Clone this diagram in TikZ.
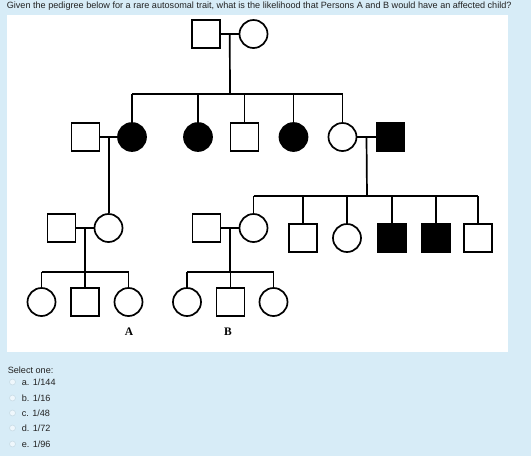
\documentclass[tikz,border=0pt]{standalone}
\usepackage{fontspec}
\setmainfont{Liberation Serif}
\setsansfont{Liberation Sans}
\usetikzlibrary{calc}
\definecolor{pagebg}{HTML}{D7ECF7}
\definecolor{ink}{HTML}{222222}
\definecolor{radio}{HTML}{C9DCE6}

\begin{document}
\begin{tikzpicture}[x=1pt,y=-1pt,
  line width=1.7pt,
  male/.style={draw, rectangle, minimum size=28pt, inner sep=0pt},
  female/.style={draw, circle, minimum size=28pt, inner sep=0pt},
  affected/.style={fill=black},
  qtext/.style={font=\sffamily\fontsize{9.1}{10}\selectfont, text=ink, inner sep=0pt},
  tag/.style={font=\bfseries\fontsize{11.5}{12}\selectfont, inner sep=0pt}]
\fill[pagebg] (0,0) rectangle (531,456);
\fill[white] (7,15) rectangle (508,352);
\node[qtext, anchor=west] (question) at (6,6.5) {Given the pedigree below for a rare autosomal trait, what is the likelihood that Persons A and B would have an affected child?};

% generation I
\node[male]   (gfather) at (206,34) {};
\node[female] (gmother) at (253.5,34) {};
\coordinate (m1) at ($(gfather)!0.5!(gmother)$);
\coordinate (s1) at (230,94);

% generation II
\node[male]             (husb1)  at (85.5,137) {};
\node[female, affected] (dau1)   at (132,137) {};
\node[female, affected] (dau2)   at (198,137) {};
\node[male]             (son1)   at (244.5,137) {};
\node[female, affected] (dau3)   at (293.5,137) {};
\node[female]           (dau4)   at (342.5,137) {};
\node[male, affected]   (husb2)  at (390.5,137) {};
\coordinate (m2) at ($(husb1)!0.5!(dau1)$);
\coordinate (m3) at ($(dau4)!0.5!(husb2)$);
\coordinate (s3) at (367,196);

% generation III
\node[male]           (husb3) at (61.5,228) {};
\node[female]         (mothA) at (108.5,228) {};
\node[male]           (husb4) at (206.5,228) {};
\node[female]         (mothB) at (253.5,228) {};
\node[male]           (sib1)  at (303,238) {};
\node[female]         (sib2)  at (347,238) {};
\node[male, affected] (sib3)  at (392,238) {};
\node[male, affected] (sib4)  at (436,238) {};
\node[male]           (sib5)  at (478,238) {};
\coordinate (m4) at ($(husb3)!0.5!(mothA)$);
\coordinate (m5) at ($(husb4)!0.5!(mothB)$);
\coordinate (s4) at (85,272);
\coordinate (s5) at (230,272);

% generation IV
\node[female] (kidA1) at (41.5,302) {};
\node[male]   (kidA2) at (85,302) {};
\node[female] (persA) at (128.5,302) {};
\node[female] (kidB1) at (187,302) {};
\node[male]   (persB) at (230.5,302) {};
\node[female] (kidB3) at (273.5,302) {};
\node[tag] (labA) at (129,332) {A};
\node[tag] (labB) at (228,332) {B};

% marriages and descents
\draw (gfather) -- (gmother);
\draw (m1) -- (s1);
\draw (dau1 |- s1) -- (dau4 |- s1);
\foreach \kid in {dau1,dau2,son1,dau3,dau4}
  \draw (\kid |- s1) -- (\kid);
\draw (husb1) -- (dau1);
\draw (dau4) -- (husb2);
\draw (m2) -- (m2 |- mothA.north);
\draw (m3) -- (s3);
\draw (mothB |- s3) -- (sib5 |- s3);
\foreach \kid in {mothB,sib1,sib2,sib3,sib4,sib5}
  \draw (\kid |- s3) -- (\kid);
\draw (husb3) -- (mothA);
\draw (husb4) -- (mothB);
\draw (m4) -- (s4);
\draw (m5) -- (s5);
\draw (kidA1 |- s4) -- (persA |- s4);
\draw (kidB1 |- s5) -- (kidB3 |- s5);
\foreach \kid in {kidA1,kidA2,persA}
  \draw (\kid |- s4) -- (\kid);
\foreach \kid in {kidB1,persB,kidB3}
  \draw (\kid |- s5) -- (\kid);

% answers
\node[qtext, anchor=west] (select) at (7,370) {Select one:};
\foreach \y/\opt [count=\i] in {382/a. 1\slash 144, 398/b. 1\slash 16, 413/c. 1\slash 48, 428/d. 1\slash 72, 444/e. 1\slash 96} {
  \node[qtext, anchor=west] (opt\i) at (21,\y) {\opt};
  \node[circle, draw=radio, fill=white!60!pagebg, line width=0.6pt, minimum size=6pt, inner sep=0pt] (radio\i) at (12.5,\y) {};
}
\end{tikzpicture}
\end{document}
